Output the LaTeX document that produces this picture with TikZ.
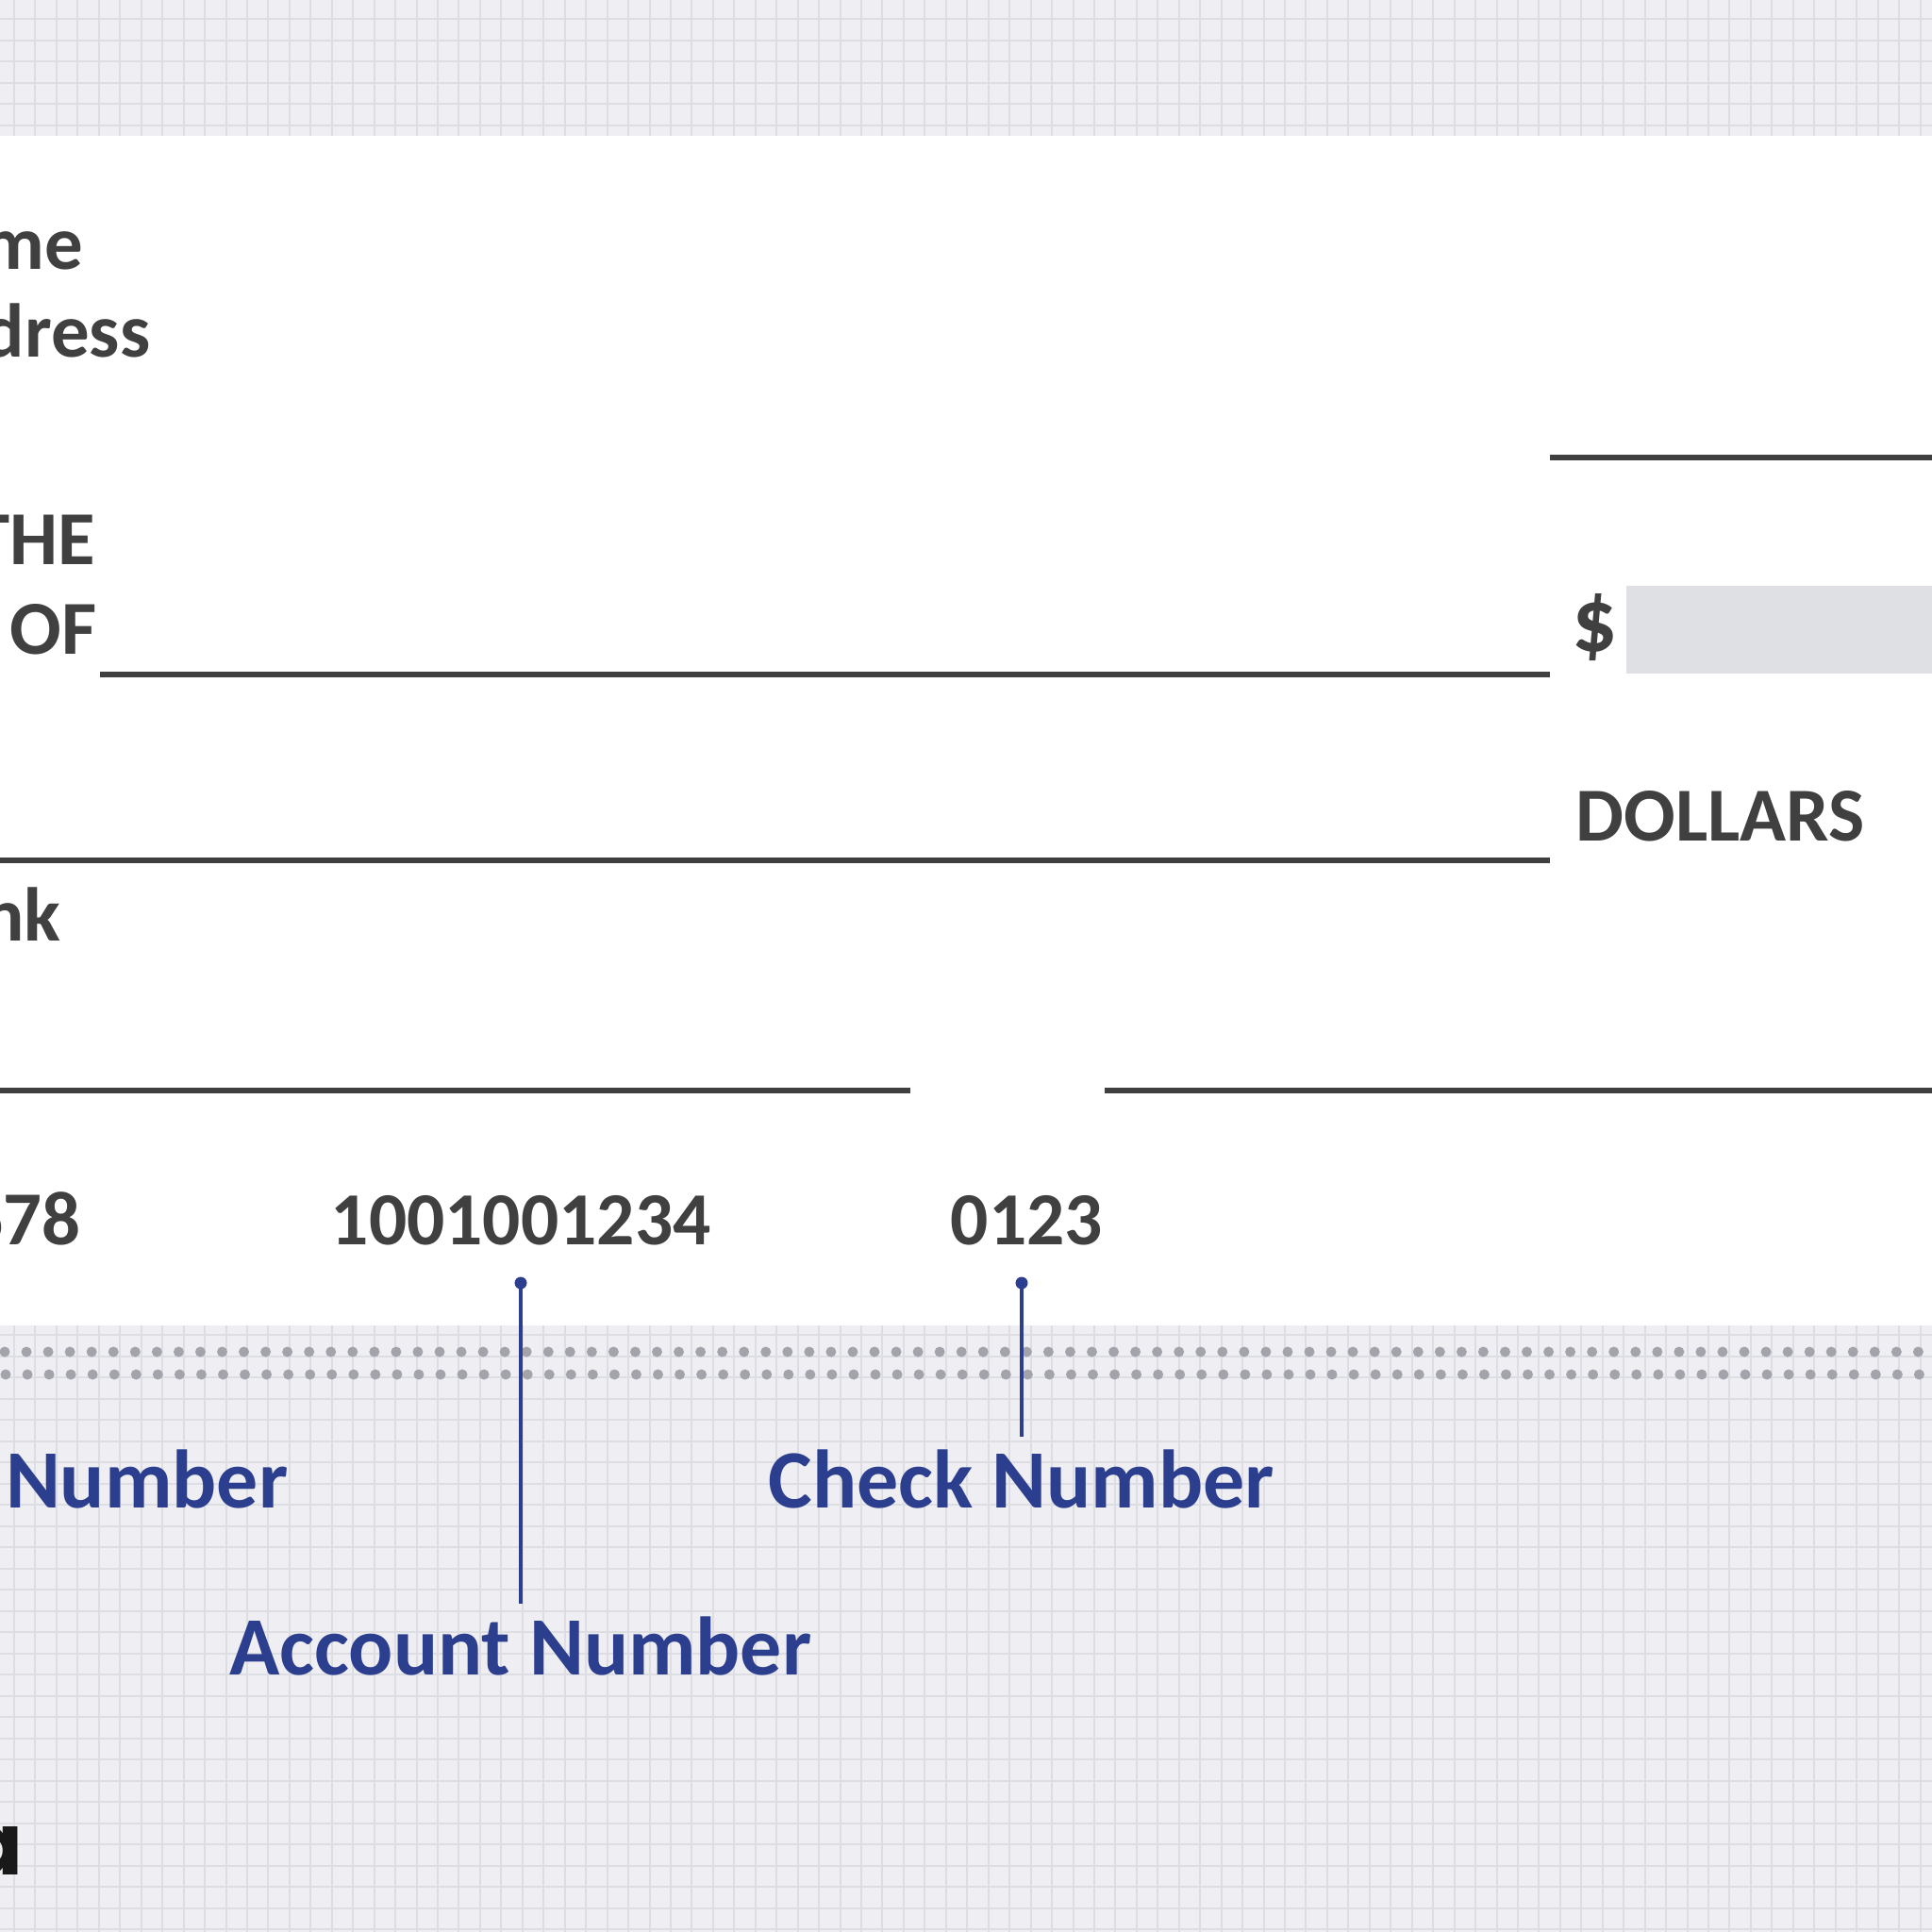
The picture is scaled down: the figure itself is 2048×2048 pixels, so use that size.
\documentclass[tikz,border=0pt]{standalone}
\usepackage{fontspec}
\setmainfont{Carlito}
\newfontfamily\logofont{Poppins}

\definecolor{ink}{HTML}{404040}
\definecolor{pinblue}{HTML}{2C3E8E}
\definecolor{paper}{HTML}{EFEFF3}
\definecolor{gridline}{HTML}{DDDDE4}
\definecolor{dotgray}{HTML}{A3A3AB}
\definecolor{amountbox}{HTML}{DFE0E4}

\begin{document}
\begin{tikzpicture}[x=0.01cm,y=-0.01cm]
\tikzstyle{rule} = [draw=ink,line width=0.065cm]
\tikzstyle{field} = [inner sep=0pt,text=ink,font=\fontsize{23pt}{23pt}\selectfont\bfseries]
\tikzstyle{callout} = [inner xsep=0pt,inner ysep=3.5pt,text=pinblue,font=\fontsize{25pt}{25pt}\selectfont\bfseries]
\tikzstyle{pinline} = [draw=pinblue,line width=0.04cm]
\tikzstyle{pinhead} = [circle,fill=pinblue,inner sep=0pt,minimum size=0.13cm]
\clip (0,0) rectangle (2048,2048);
% paper with grid
\fill[paper] (0,0) rectangle (2048,2048);
\foreach \k in {0,...,91} {
  \draw[gridline,line width=0.02cm] (15+22.45*\k,0) -- (15+22.45*\k,2048);
  \draw[gridline,line width=0.02cm] (0,20+22.5*\k) -- (2048,20+22.5*\k);
}
% the cheque
\fill[white] (0,144) rectangle (2048,1405);
\foreach \k in {0,...,88} {
  \fill[dotgray] (5+23.05*\k,1433) circle (0.055cm);
  \fill[dotgray] (6+23.05*\k,1457) circle (0.055cm);
}
\draw[rule] (1643,485) -- (2048,485);
\draw[rule] (106,715) -- (1643,715);
\draw[rule] (0,912) -- (1643,912);
\draw[rule] (0,1156) -- (965,1156);
\draw[rule] (1171,1156) -- (2048,1156);
\fill[amountbox] (1724,621) rectangle (2048,714);
\node[field,anchor=base east] (name) at (89,285) {Name};
\node[field,anchor=base east] (address) at (160,378) {Address};
\node[field,anchor=base east] (paytothe) at (102,598) {PAY TO THE};
\node[field,anchor=base east] (orderof) at (103,693) {ORDER OF};
\node[field,anchor=base west,font=\fontsize{27pt}{27pt}\selectfont\bfseries] (dollar) at (1666,690) {\$};
\node[field,anchor=base west] (dollars) at (1670,891) {DOLLARS};
\node[field,anchor=base east] (bank) at (65,997) {Bank};
\node[field,anchor=base east] (routing) at (86,1319) {012345678};
\node[field,anchor=base west,font=\fontsize{22.6pt}{23pt}\selectfont\bfseries] (account) at (350,1319) {1001001234};
\node[field,anchor=base west,font=\fontsize{22.6pt}{23pt}\selectfont\bfseries] (checkno) at (1007,1319) {0123};
% callouts
\node[pinhead] (accountpin) at (552,1360) {};
\node[pinhead] (checkpin) at (1083,1360) {};
\node[callout,anchor=base] (accountlabel) at (552,1775) {Account Number};
\node[callout,anchor=base] (checklabel) at (1083,1598) {Check Number};
\node[callout,anchor=base east] (routinglabel) at (306,1598) {Routing Number};
\draw[pinline] (accountpin.center) -- (accountlabel.north);
\draw[pinline] (checkpin.center) -- (checklabel.north);
\node[anchor=base east,inner sep=0pt,text=black!90,font=\logofont\fontsize{26pt}{26pt}\selectfont\bfseries] (logo) at (25,1987) {a};
\end{tikzpicture}
\end{document}
